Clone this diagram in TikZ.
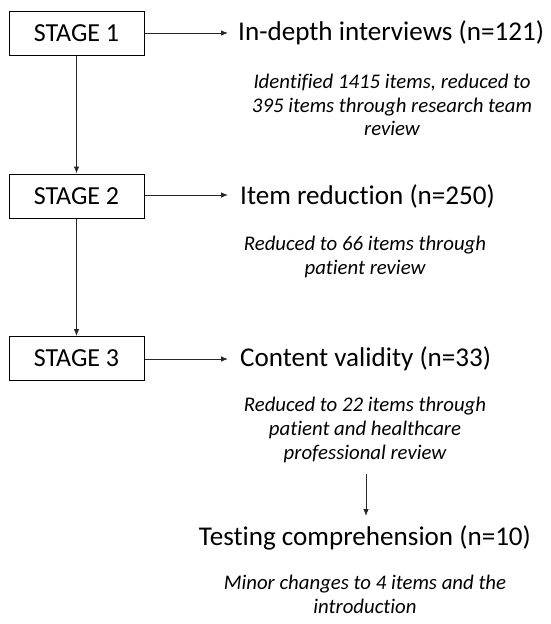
\documentclass[tikz,border=0pt]{standalone}
\usepackage{fontspec}
\setmainfont{Carlito}[Ligatures={NoCommon}]
\usetikzlibrary{arrows.meta}
\tikzset{
  stagebox/.style={draw=black, line width=1pt, minimum width=135pt, minimum height=44pt, inner sep=0pt, font=\fontsize{26}{30}\selectfont},
  title/.style={inner sep=0pt, font=\fontsize{27.1}{33}\selectfont},
  note/.style={inner sep=0pt, align=center, font=\fontsize{20.8}{23.8}\selectfont\itshape},
  conn/.style={draw=black!85, line width=0.8pt, -{Latex[length=7pt,width=5.5pt]}}
}
\begin{document}
\begin{tikzpicture}[x=1pt,y=1pt]
\useasboundingbox (0,0) rectangle (550,-624);
\node[stagebox] (s1) at (76.5,-33) {STAGE 1};
\node[stagebox] (s2) at (76.5,-196) {STAGE 2};
\node[stagebox] (s3) at (76.5,-358.5) {STAGE 3};

\node[title, anchor=west] (t1) at (238,-33) {In-depth interviews (n=121)};
\node[title, anchor=west] (t2) at (240,-196) {Item reduction (n=250)};
\node[title, anchor=west] (t3) at (240,-359) {Content validity (n=33)};
\node[title] (t4) at (365,-538) {Testing comprehension (n=10)};

\node[note] (n1) at (392,-105) {Identified 1415 items, reduced to\\395 items through research team\\review};
\node[note] (n2) at (365,-257) {Reduced to 66 items through\\patient review};
\node[note] (n3) at (365,-430) {Reduced to 22 items through\\patient and healthcare\\professional review};
\node[note] (n4) at (365,-594.5) {Minor changes to 4 items and the\\introduction};

\coordinate (a1) at (228,-33);
\coordinate (a2) at (228,-195);
\coordinate (a3) at (228,-359);
\coordinate (d1) at (366,-474);
\coordinate (d2) at (366,-516);

\draw[conn] (s1.east |- a1) -- (a1);
\draw[conn] (s2.east |- a2) -- (a2);
\draw[conn] (s3.east |- a3) -- (a3);
\draw[conn] (s1) -- (s2);
\draw[conn] (s2) -- (s3);
\draw[conn] (d1) -- (d2);
\end{tikzpicture}
\end{document}
